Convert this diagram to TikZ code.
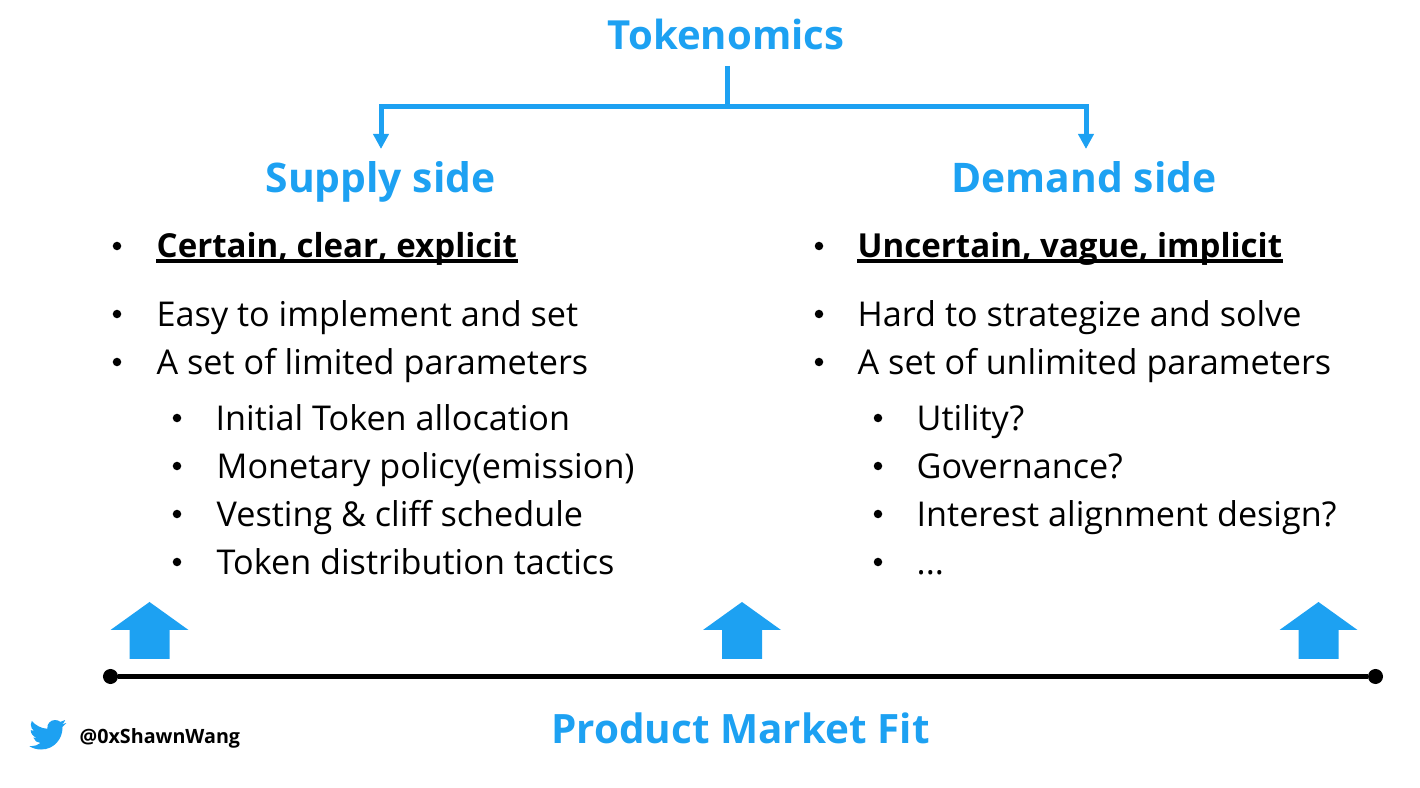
\documentclass[tikz,border=0pt]{standalone}
\usepackage{fontspec}
\setmainfont{Open Sans}
\usepackage{xcolor}
\usetikzlibrary{arrows.meta}
\definecolor{twblue}{HTML}{1DA1F2}
\tikzset{
  heading/.style={anchor=base,text=twblue,font=\fontsize{11.6pt}{13pt}\selectfont\bfseries,inner sep=0pt},
  item/.style={anchor=base west,inner sep=0pt,font=\fontsize{9.72pt}{12pt}\selectfont},
  topitem/.style={item,font=\fontsize{9.4pt}{12pt}\selectfont\bfseries},
  bulletdot/.style={circle,fill=black,inner sep=0pt,outer sep=0pt,minimum size=0.085cm},
  enddot/.style={circle,fill=black,inner sep=0pt,outer sep=0pt,minimum size=0.15cm},
  link/.style={twblue,line width=0.05cm},
}
\begin{document}
\begin{tikzpicture}[x=0.01cm,y=-0.01cm]
\useasboundingbox (0,0) rectangle (1420,788);
% title and the two sides
\node[heading,font=\fontsize{11.4pt}{13pt}\selectfont\bfseries] (tokenomics) at (726,50) {Tokenomics};
\node[heading] (supply) at (380.5,193) {Supply side};
\node[heading] (demand) at (1084,193) {Demand side};
\coordinate (stemtop) at (727,66);
\coordinate (branch) at (727,107);
\coordinate (supplytip) at (381,149);
\coordinate (demandtip) at (1086,149);
\draw[link] (stemtop) -- (branch);
\draw[link,-{Triangle[width=0.15cm,length=0.15cm]}] (branch) -| (supplytip);
\draw[link,-{Triangle[width=0.15cm,length=0.15cm]}] (branch) -| (demandtip);
% left column
\node[topitem] (lhead) at (156,258) {Certain, clear, explicit};
\draw[line width=0.03cm] ([yshift=-0.03cm]lhead.base west) -- ([yshift=-0.03cm]lhead.base east);
\node[item] (leasy) at (156,326.5) {Easy to implement and set};
\node[item] (lset) at (156,374.5) {A set of limited parameters};
\node[item] (lalloc) at (215,430.5) {Initial Token allocation};
\node[item] (lpolicy) at (216,478.5) {Monetary policy(emission)};
\node[item] (lvest) at (216,526.5) {Vesting \& cliff schedule};
\node[item] (ldist) at (216,574.5) {Token distribution tactics};
% right column
\node[topitem] (rhead) at (857,258) {Uncertain, vague, implicit};
\draw[line width=0.03cm] ([yshift=-0.03cm]rhead.base west) -- ([yshift=-0.03cm]rhead.base east);
\node[item] (rhard) at (857,326.5) {Hard to strategize and solve};
\node[item] (rset) at (857,374.5) {A set of unlimited parameters};
\node[item] (rutil) at (916,430.5) {Utility?};
\node[item] (rgov) at (916,478.5) {Governance?};
\node[item] (rint) at (916,526.5) {Interest alignment design?};
\node[item] (rmore) at (916,574.5) {...};
% bullets
\foreach \bx/\by in {117/246,117/314,117/362,177/418,177/466,177/514,177/562,
  819/246,819/314,819/362,878/418,878/466,878/514,878/562}
  \node[bulletdot] (dot\bx\by) at (\bx,\by) {};
% fat arrows
\foreach \ax in {149.5,742,1318.5}
  \fill[twblue] (\ax,602) -- (\ax+39,630) -- (\ax+20,630) -- (\ax+20,659)
    -- (\ax-20,659) -- (\ax-20,630) -- (\ax-39,630) -- cycle;
% market line
\node[enddot] (linestart) at (110.5,676.5) {};
\node[enddot] (lineend) at (1375.5,676.5) {};
\draw[line width=0.05cm] (linestart) -- (lineend);
\node[heading,font=\fontsize{11.5pt}{13pt}\selectfont\bfseries] (fit) at (740.5,743) {Product Market Fit};
% bird
\begin{scope}[shift={(29.3,716)},x=0.0154cm,y=-0.0154cm]
\fill[twblue] (23.953,4.57) .. controls (23.07,4.96) and (22.12,5.22) .. (21.128,5.345)
  .. controls (22.14,4.73) and (22.92,3.77) .. (23.291,2.622)
  .. controls (22.34,3.177) and (21.286,3.581) .. (20.164,3.806)
  .. controls (19.2,3.0) and (18.0,2.6) .. (16.6,2.6)
  .. controls (13.8,2.6) and (11.1,5.3) .. (11.78,8.288)
  .. controls (7.69,8.095) and (4.067,6.13) .. (1.64,3.162)
  .. controls (1.2,3.9) and (0.974,4.75) .. (0.974,5.637)
  .. controls (0.974,7.347) and (1.844,8.85) .. (3.162,9.733)
  .. controls (2.35,9.7) and (1.6,9.5) .. (0.934,9.117)
  -- (0.934,9.177)
  .. controls (0.934,11.55) and (2.6,13.55) .. (4.88,14.004)
  .. controls (4.15,14.2) and (3.4,14.23) .. (2.668,14.089)
  .. controls (3.3,16.05) and (5.1,17.45) .. (7.272,17.506)
  .. controls (5.6,18.83) and (3.5,19.611) .. (1.17,19.611)
  .. controls (0.78,19.611) and (0.391,19.588) .. (0,19.544)
  .. controls (2.18,20.94) and (4.77,21.753) .. (7.557,21.753)
  .. controls (16.61,21.753) and (21.555,14.257) .. (21.555,7.768)
  .. controls (21.555,7.558) and (21.555,7.348) .. (21.54,7.138)
  .. controls (22.5,6.44) and (23.33,5.6) .. (24,4.59) -- cycle;
\end{scope}
\node[anchor=base west,inner sep=0pt,font=\fontsize{5.6pt}{7pt}\selectfont\bfseries] (handle) at (79,743) {@0xShawnWang};
\end{tikzpicture}
\end{document}
